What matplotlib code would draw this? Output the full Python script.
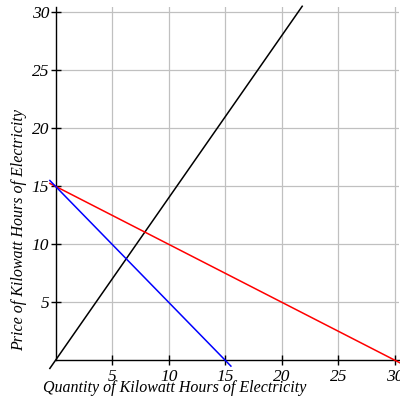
import matplotlib
matplotlib.use("Agg")
import matplotlib.pyplot as plt
import numpy as np

# Data
supply_q = [-0.5, 21.8]          # black line P = 1.4 Q
supply_slope = 1.4
demand1_q = [-0.5, 30.5]         # red line P = 15 - 0.5 Q
demand1_int, demand1_slope = 15.0, -0.5
demand2_q = [-0.5, 15.5]         # blue line P = 15 - Q
demand2_int, demand2_slope = 15.0, -1.0
ticks = [5, 10, 15, 20, 25, 30]
xlabel = "Quantity of Kilowatt Hours of Electricity"
ylabel = "Price of Kilowatt Hours of Electricity"

plt.rcParams['font.family'] = ['Liberation Serif', 'DejaVu Serif']

fig = plt.figure(figsize=(4, 4), dpi=100)
x0p, x30p = 55.5, 395.0
y0p, y30p = 400 - 360.3, 400 - 12.3
xmax, ymax = 30.35, 30.45
sx = (x30p - x0p) / 30
sy = (y30p - y0p) / 30
ax = fig.add_axes([x0p / 400, y0p / 400, xmax * sx / 400, ymax * sy / 400])
ax.set_xlim(0, xmax)
ax.set_ylim(0, ymax)

q = np.array(supply_q)
ax.plot(q, supply_slope * q, color='black', lw=1.1, clip_on=False, zorder=3)
q = np.array(demand1_q)
ax.plot(q, demand1_int + demand1_slope * q, color='#ff0000', lw=1.1, clip_on=False, zorder=3)
q = np.array(demand2_q)
ax.plot(q, demand2_int + demand2_slope * q, color='#0000ff', lw=1.1, clip_on=False, zorder=3)

ax.set_xticks(ticks)
ax.set_yticks(ticks)
ax.set_xticklabels([str(t) for t in ticks], fontstyle='italic', fontsize=12.5)
ax.set_yticklabels([str(t) for t in ticks], fontstyle='italic', fontsize=12.5)
ax.grid(True, color='#c0c0c0', lw=0.9)
ax.set_axisbelow(True)
for s in ['top', 'right']:
    ax.spines[s].set_visible(False)
for s in ['left', 'bottom']:
    ax.spines[s].set_linewidth(1.0)
    ax.spines[s].set_zorder(2.5)
ax.tick_params(direction='inout', length=7, width=1.0, colors='black')
ax.tick_params(axis='y', pad=1)
ax.tick_params(axis='x', pad=2.5)

fig.text(174.5 / 400, 1 - 391.7 / 400, xlabel, fontstyle='italic', fontsize=11.5,
         ha='center', va='baseline')
fig.text(19 / 400, 1 - 230 / 400, ylabel, fontstyle='italic', fontsize=11.5,
         ha='center', va='center', rotation=90)

fig.savefig("out.png", dpi=100)
